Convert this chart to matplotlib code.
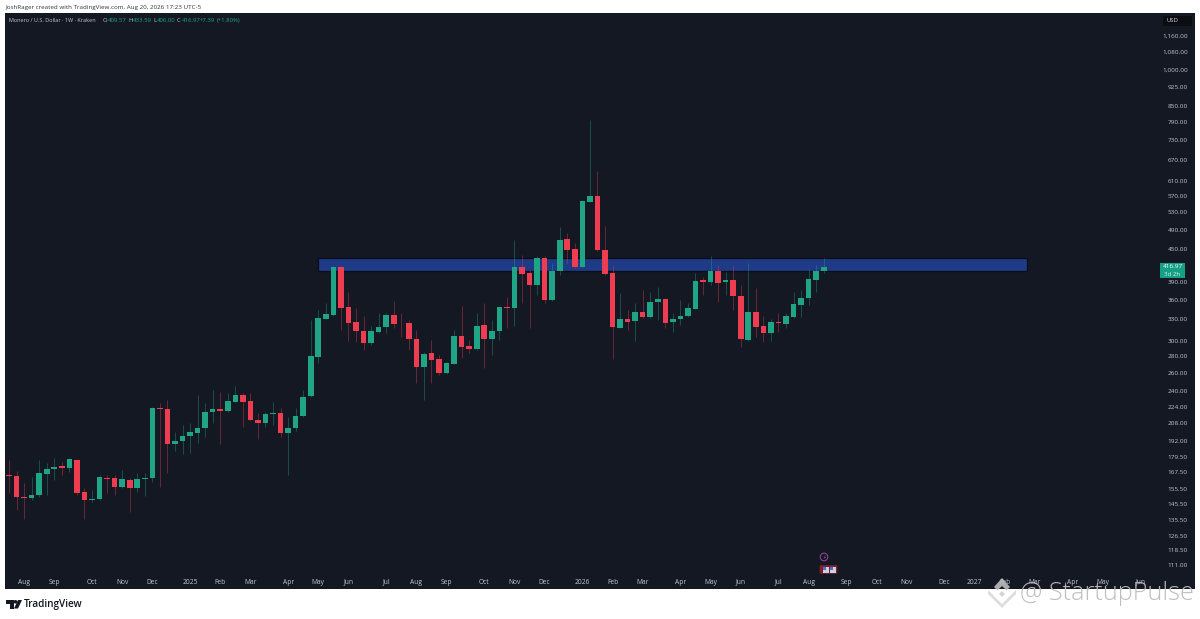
import matplotlib
matplotlib.use('Agg')
import matplotlib.pyplot as plt
import matplotlib.dates as mdates
from matplotlib.patches import Circle, FancyBboxPatch, Polygon, Rectangle
from matplotlib.ticker import NullLocator
import numpy as np
import pandas as pd

# weekly XMR/USD candles
first_week = '2024-07-22'
opens = [165.6,164.9,150.3,149.1,151.5,166.3,169.8,172.3,170.3,177,
         153.3,147.8,148.7,163.6,163.6,156.8,161.9,156.5,162.4,163.1,
         222.6,222.2,190.2,192.2,196.8,199.3,203.5,218.4,222.2,220,
         229.2,236,229.5,211.6,208.4,216.8,218,198.9,203.5,215,
         234.9,279.8,331,336.5,417,347.8,326.5,313.8,297.5,312.5,
         318.5,336,325,325,302.5,267.6,284.7,276.3,260.3,271,
         306.3,292.7,289.3,321.5,302.5,313.8,349,346.4,417,405,
         385,434,359,408,471,450.5,417,556,570.5,448,
         405,317.5,331,327,341,333.5,356.5,361,325.5,330,
         334.5,346,392,390,409,389.5,392,366.5,301.5,340.5,
         320.5,310.5,326.5,323.5,334,352,362.5,393.5,409.57]
highs = [176.8,168.1,159.6,164.3,177,174.3,178.8,175.6,178.8,177.6,
         156,154.8,165.6,165.6,165.6,169.3,163.1,166.8,166.8,223.4,
         227.5,231,200.5,206.6,208,236,227.5,241,239.4,237.7,
         245.6,238.4,237.7,217.5,218.4,228.8,222.6,214.3,222.6,241,
         329,344,355,418,418,373,346.4,335,321,338.9,
         338.9,358,338.9,329,314.7,286,301.5,281.7,273.5,314.7,
         349.6,301.5,338.9,355,329,349.6,364,469,438.7,410,
         436,436,423,497.8,483,462.3,561,798,638,499,
         420,370.4,344,354,376,373,381.5,362,339,359,
         354,406,398.8,436,420,407,420,385,423,379,
         334.5,331,339,339,373,376,412,420,433.59]
lows = [152.6,141.7,136,148.2,150.3,151.5,161.9,165.6,168,151.5,
        136,147.1,148.2,152.6,151.5,156,140.6,153.7,151,160.7,
        156.8,166.8,184,182,182.5,190.8,195.6,208,189.8,219,
        228.8,205,210.3,193.8,204.5,206.6,196.2,165.6,201,214.3,
        234.2,271.5,330,335,314.7,300,298.7,288,294.5,310,
        310,317,305.4,288,248.4,230.8,248.4,257.3,259,270.3,
        277.7,284,288,265.5,281.7,301.5,317,321,355,317,
        367.5,355,358,402,423,414,416,554,447,402,
        276.5,317,315,300,332,332,329,317,312.5,322,
        333.5,345,367.5,385,356,367.5,344,291.5,300,305,
        299,300,312.5,317,332,333.5,351,373,406]
closes = [164.6,150.3,149.3,151.6,166.8,170,171.8,170.3,178,152.6,
          147.8,148.9,163.9,162.9,156.8,162.6,156.5,162.4,163.4,223,
          221.6,189.8,192.8,196.8,200.2,203.8,219,221.9,219.7,229.5,
          236.3,229.2,211,208.4,216.8,218,198.9,203.8,215,234.2,
          280.6,332.6,338,417,346.4,325,313.3,297.5,313.8,319,
          336,323.3,324,302,267.6,283.5,275.5,260,271.5,306.3,
          292,289,321,302.5,314,347.8,346.4,417,404,385,
          434,359,408,469,449,416.5,558,570.5,448,403.7,
          318.5,331,326.5,341,333,357,361,325,330,334.5,
          346.5,391,389.5,408,388,392,366,302,340.5,319.5,
          310,326.5,324,335,353,363.5,395,408,416.97]

zone_start, zone_end = '2025-05-05', '2027-02-22'
zone_top, zone_bottom = 434, 408

price_ticks = [1160,1080,1000,925,850,790,730,670,610,570,530,490,450,390,360,330,
               300,280,260,240,224,208,192,179.5,167.5,155.5,145.5,135.5,126.5,118.5,111]

month_ticks = ['2024-08-05','2024-09-02','2024-10-07','2024-11-04','2024-12-02',
               '2025-01-06','2025-02-03','2025-03-03','2025-04-07','2025-05-05','2025-06-02',
               '2025-07-07','2025-08-04','2025-09-01','2025-10-06','2025-11-03','2025-12-01',
               '2026-01-05','2026-02-02','2026-03-02','2026-04-06','2026-05-04','2026-06-01',
               '2026-07-06','2026-08-03','2026-09-07','2026-10-05','2026-11-02','2026-12-07',
               '2027-01-04','2027-02-01','2027-03-01','2027-04-05','2027-05-03','2027-06-07']
month_labels = ['Aug','Sep','Oct','Nov','Dec','2025','Feb','Mar','Apr','May','Jun','Jul','Aug','Sep',
                'Oct','Nov','Dec','2026','Feb','Mar','Apr','May','Jun','Jul','Aug','Sep','Oct','Nov',
                'Dec','2027','Feb','Mar','Apr','May','Jun']

BG = '#141823'
UP = '#1fa585'
DOWN = '#ee3d50'
AXIS_TEXT = '#c3c6cd'
FONT = 'Open Sans'

plt.rcParams['font.family'] = [FONT, 'DejaVu Sans']

W, H = 1200, 619
fig = plt.figure(figsize=(W / 100, H / 100), dpi=100, facecolor='white')
ax = fig.add_axes([5 / W, 1 - 589 / H, (1195 - 5) / W, (589 - 13) / H], facecolor=BG)

dates = pd.date_range(first_week, periods=len(closes), freq='7D')
x = mdates.date2num(dates)
o, h, l, c = map(np.array, (opens, highs, lows, closes))
colors = np.where(c >= o, UP, DOWN)

ax.add_patch(Rectangle((mdates.datestr2num(zone_start), zone_bottom),
                       mdates.datestr2num(zone_end) - mdates.datestr2num(zone_start),
                       zone_top - zone_bottom,
                       facecolor='#1f3a86', edgecolor='#0a0e18', lw=0.9, zorder=1))

ax.vlines(x, l, h, colors=colors, lw=0.6, alpha=0.45, zorder=2)
ax.bar(x, np.abs(c - o), bottom=np.minimum(o, c), width=5.2, color=colors, lw=0, zorder=3)

ax.set_yscale('log')
ax.set_ylim(99.8, 1283.6)
ax.set_xlim(x[0] - 3.71, x[0] + 1100.5)

ax.yaxis.tick_right()
ax.yaxis.set_major_locator(plt.FixedLocator(price_ticks))
ax.yaxis.set_minor_locator(NullLocator())
ax.set_yticklabels([f'{p:,.2f}' for p in price_ticks], ha='right')
ax.tick_params(axis='y', length=0, pad=-5.2, labelsize=4.6, labelcolor=AXIS_TEXT)

ax.set_xticks(mdates.datestr2num(month_ticks))
ax.set_xticklabels(month_labels, va='baseline')
ax.tick_params(axis='x', length=0, pad=-3.8, labelsize=4.8, labelcolor=AXIS_TEXT)
for spine in ax.spines.values():
    spine.set_visible(False)

# overlay in image pixels for the TradingView furniture and watermark
ov = fig.add_axes([0, 0, 1, 1], facecolor='none', zorder=5)
ov.set_xlim(0, W)
ov.set_ylim(H, 0)
ov.axis('off')

ov.text(5, 7, 'JoshRager created with TradingView.com, Aug 20, 2026 17:23 UTC-5',
        fontsize=4.5, color='#333740', va='center')

legend_parts = [(9, 'Monero / U.S. Dollar · 1W · Kraken', '#c4c7ce', 3.95), (103, 'O', '#c4c7ce', 4.3),
                (108, '409.57', UP, 4.3), (128, 'H', '#c4c7ce', 4.3), (133, '433.59', UP, 4.3),
                (153, 'L', '#c4c7ce', 4.3), (157, '406.00', UP, 4.3), (177, 'C', '#c4c7ce', 4.3),
                (182, '416.97', UP, 4.3), (200, '+7.39', UP, 4.3), (217, '(+1.80%)', UP, 4.3)]
for px, text, col, size in legend_parts:
    ov.text(px, 20.5, text, fontsize=size, color=col, va='center')

# currency tag and last price tag
ov.add_patch(Rectangle((1163, 16), 29, 10, facecolor='#0b0d12', lw=0))
ov.text(1172, 21, 'USD', fontsize=4.3, color='#d5d7dc', ha='center', va='center')
ov.add_patch(Rectangle((1160, 263), 25, 15, facecolor='#15a085', lw=0))
ov.text(1172.5, 267, '416.97', fontsize=4.6, color='white', ha='center', va='center')
ov.text(1172.5, 274, '3d 2h', fontsize=4.4, color='#d8f2ec', ha='center', va='center')

# event markers under the last candles
ov.add_patch(Circle((824, 557), 3.8, facecolor='none', edgecolor='#8f3f95', lw=0.8))
ov.text(824, 557, '⚡', fontsize=3.5, color='#b05fb5', ha='center', va='center', family='DejaVu Sans')
ov.add_patch(FancyBboxPatch((821, 566.5), 15, 6, boxstyle='round,pad=1.4', facecolor='#7c1f2c', lw=0))
for fx in (823, 830):
    ov.add_patch(Rectangle((fx, 566.5), 5.5, 6, facecolor='#c9cfe6', lw=0))
    ov.add_patch(Rectangle((fx, 566.5), 2.5, 3, facecolor='#5371b8', lw=0))

# TradingView logo
ov.add_patch(Polygon([(6, 600), (13.5, 600), (13.5, 608.5), (10, 608.5), (10, 603.5), (6, 603.5)],
                     facecolor='#131722', lw=0))
ov.add_patch(Circle((15.5, 601.8), 1.8, facecolor='#131722', lw=0))
ov.add_patch(Polygon([(18, 600), (22, 600), (18, 608.5), (14, 608.5)], facecolor='#131722', lw=0))
ov.text(24, 604.5, 'TradingView', fontsize=7.2, color='#131722', fontweight='semibold', va='center')

# watermark
wm_col = '#bcbcbc'
ov.add_patch(Polygon([(1002, 578), (1010, 587), (1006.5, 590.5), (1002, 586), (997.5, 590.5), (994, 587)],
                     facecolor=wm_col, alpha=0.9, lw=0))
ov.add_patch(Polygon([(1002, 591), (1005, 594), (1002, 597), (999, 594)], facecolor=wm_col, alpha=0.65, lw=0))
ov.add_patch(Polygon([(988, 590), (992, 594), (1002, 604), (1012, 594), (1016, 590), (1016, 594),
                      (1002, 608), (988, 594)], facecolor=wm_col, alpha=0.5, lw=0))
ov.text(1020, 594, '@ StartupPulse', fontsize=18.2, color=wm_col, alpha=0.95, va='center', fontweight='light')

fig.savefig('out.png', dpi=100, facecolor='white')
